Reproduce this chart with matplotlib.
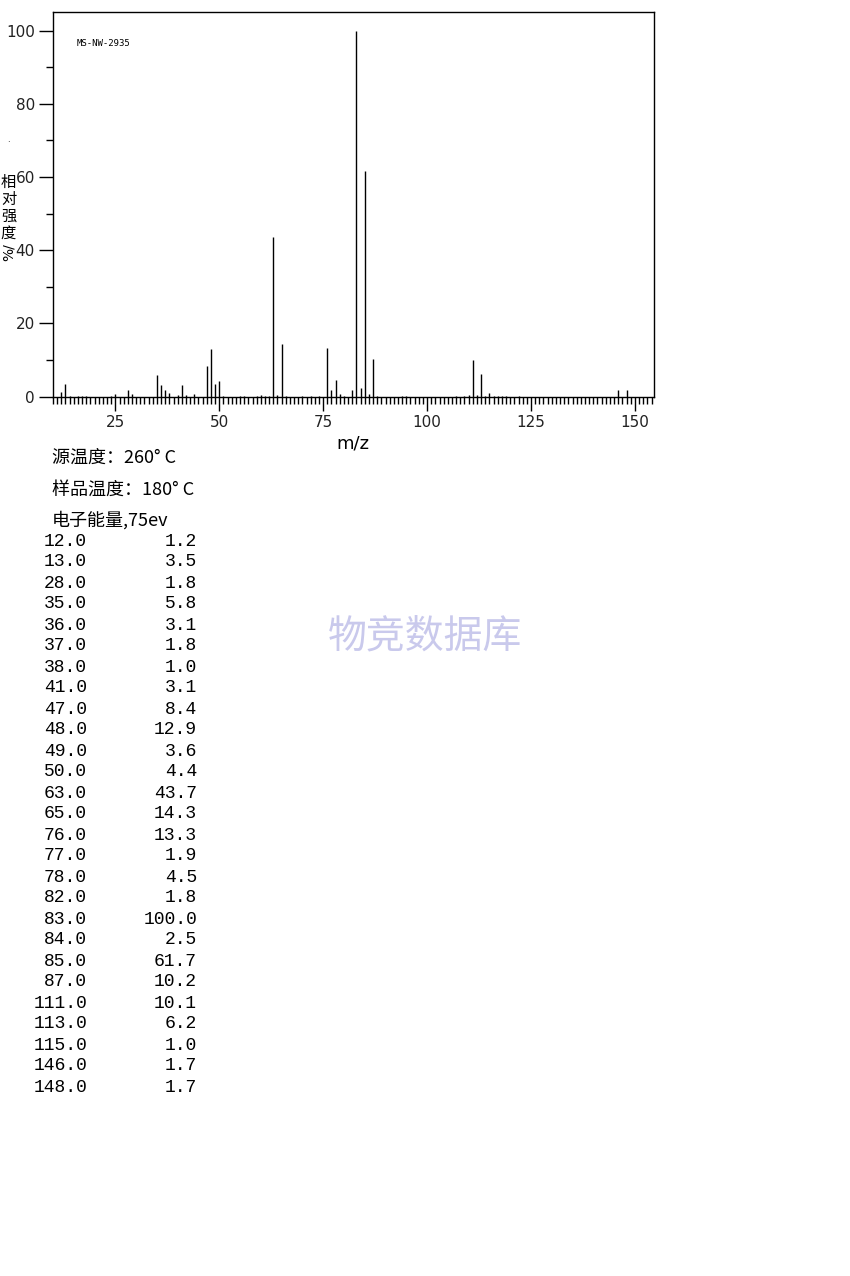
import matplotlib
matplotlib.use("Agg")
import matplotlib.pyplot as plt
from matplotlib.ticker import MultipleLocator

# main peaks (listed in the table)
mz = [12, 13, 28, 35, 36, 37, 38, 41, 47, 48, 49, 50, 63, 65, 76, 77, 78,
      82, 83, 84, 85, 87, 111, 113, 115, 146, 148]
inten = [1.2, 3.5, 1.8, 5.8, 3.1, 1.8, 1.0, 3.1, 8.4, 12.9, 3.6, 4.4, 43.7,
         14.3, 13.3, 1.9, 4.5, 1.8, 100.0, 2.5, 61.7, 10.2, 10.1, 6.2, 1.0,
         1.7, 1.7]

# small peaks (not in the table)
mz_small = [14, 16, 17, 18, 24, 25, 29, 40, 42, 44, 51, 55, 56, 59, 60, 61,
            62, 64, 66, 70, 72, 74, 79, 80, 86, 88, 94, 95, 107, 109, 110,
            112, 114, 116, 117, 118, 119, 122]
int_small = [0.3, 0.3, 0.3, 0.3, 0.3, 0.8, 0.8, 0.6, 0.6, 0.8, 0.3, 0.3, 0.3,
             0.3, 0.5, 0.3, 0.3, 0.6, 0.3, 0.3, 0.3, 0.3, 0.8, 0.3, 0.8, 0.3,
             0.3, 0.3, 0.3, 0.3, 0.6, 0.6, 0.3, 0.3, 0.3, 0.3, 0.3, 0.3]

info = ["源温度：260° C", "样品温度：180° C", "电子能量,75ev"]
code = "MS-NW-2935"

W, H = 850, 1276
fig = plt.figure(figsize=(W / 100, H / 100), dpi=100)
cjk = ['Noto Sans CJK SC', 'DejaVu Sans']

ax = fig.add_axes([53 / W, 1 - 396.7 / H, 601 / W, 384.4 / H])
ax.vlines(mz + mz_small, 0, inten + int_small, colors="black", lw=1.0)
ax.set_xlim(10, 154.6)
ax.set_ylim(0, 105)
ax.xaxis.set_major_locator(MultipleLocator(25))
ax.xaxis.set_minor_locator(MultipleLocator(1))
ax.yaxis.set_major_locator(MultipleLocator(20))
ax.yaxis.set_minor_locator(MultipleLocator(10))
ax.tick_params(which="major", length=10, width=1, labelsize=11, pad=3,
               labelcolor="#222222")
ax.tick_params(which="minor", length=5, width=1)
for s in ax.spines.values():
    s.set_linewidth(1)

ax.text(77 / W, 1 - 43 / H, code, transform=fig.transFigure, fontsize=6.5,
        va="center", ha="left", family="DejaVu Sans Mono")
fig.text(353 / W, 1 - 444 / H, "m/z", ha="center", va="center", fontsize=13)

# vertical y label
fig.text(8.5 / W, 1 - 208 / H, "相\n对\n强\n度", ha="center", va="center",
         fontsize=11, family=cjk, linespacing=1.0)
fig.text(8.5 / W, 1 - 252 / H, "%/", ha="center", va="center", rotation=90,
         fontsize=10)
fig.text(8 / W, 1 - 139 / H, ".", ha="center", va="center", fontsize=6)

ys = [458, 490, 520]
for t, y in zip(info, ys):
    fig.text(52 / W, 1 - y / H, t, ha="left", va="center", fontsize=13,
             family=cjk)

for i, (m, v) in enumerate(zip(mz, inten)):
    y = 541 + 21 * i
    fig.text(87 / W, 1 - y / H, f"{m:.1f}", ha="right", va="center",
             fontsize=13, family="Liberation Mono")
    fig.text(197 / W, 1 - y / H, f"{v:.1f}", ha="right", va="center",
             fontsize=13, family="Liberation Mono")

fig.text(425 / W, 1 - 637 / H, "物竞数据库", ha="center", va="center",
         fontsize=28, family=cjk, color="#c9c9ec")

fig.savefig("out.png", dpi=100)
